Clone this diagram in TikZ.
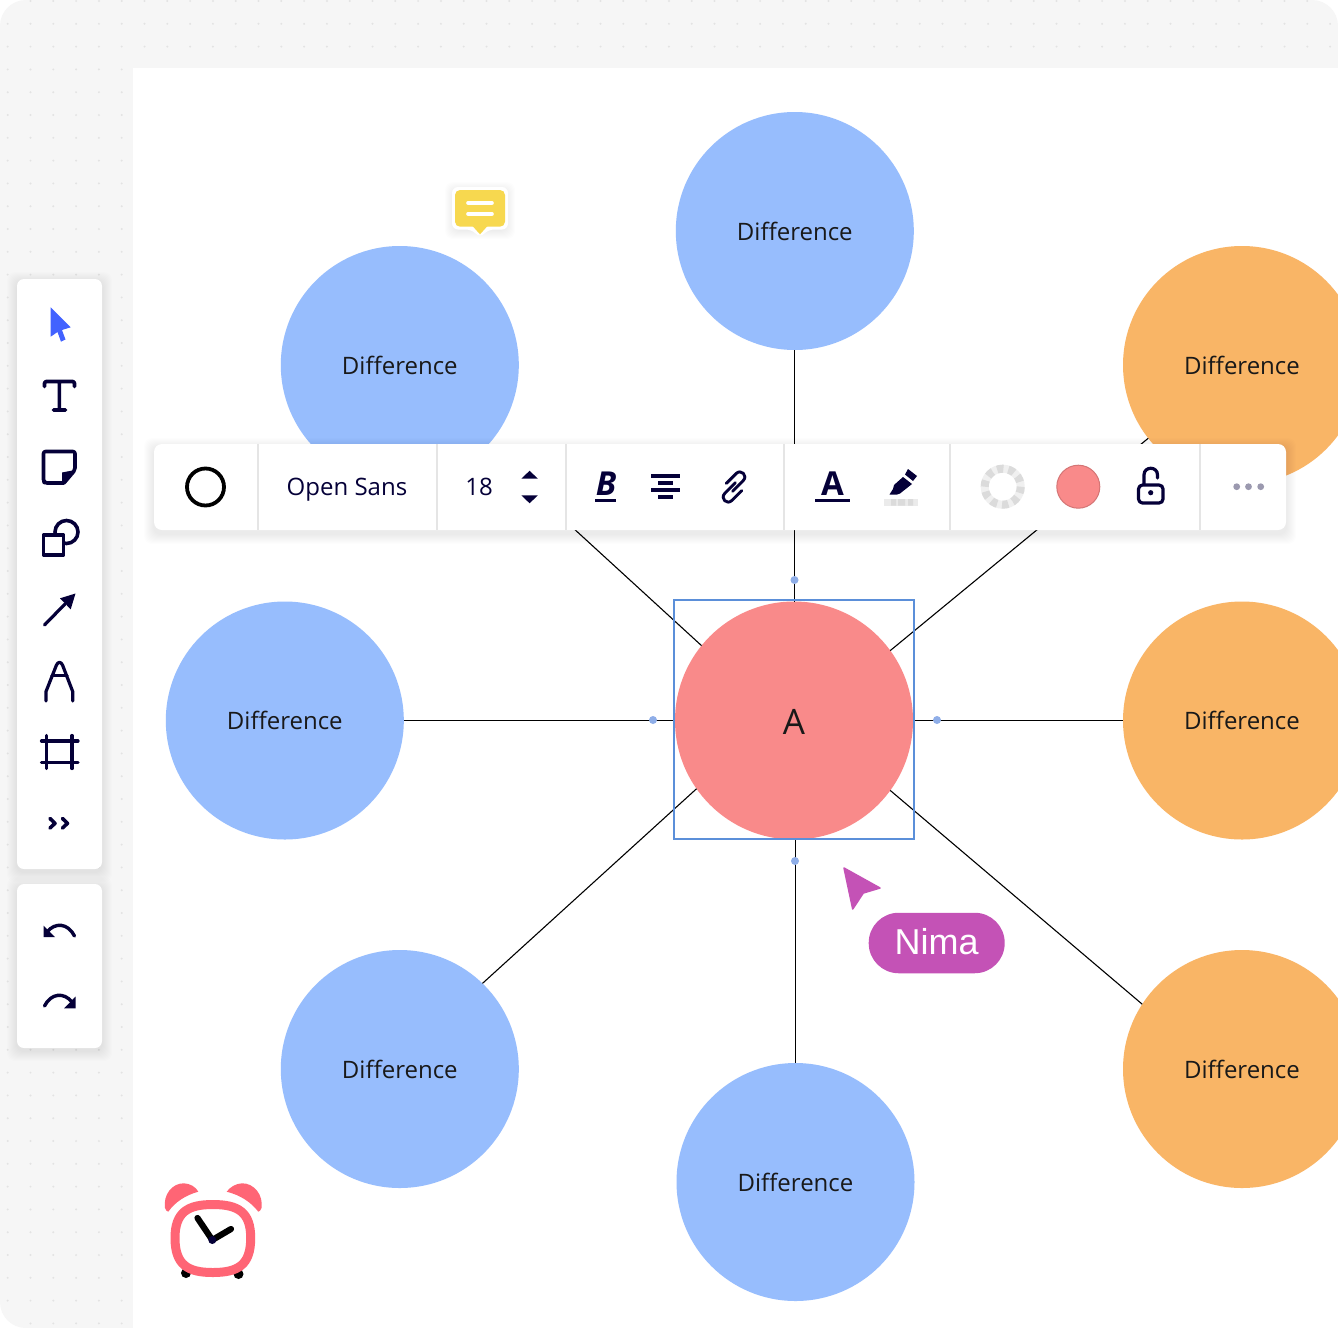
\documentclass[tikz,border=0pt]{standalone}
\usepackage{fontspec}
\setmainfont{Open Sans}
\newfontfamily\nimafont{Liberation Sans}
\definecolor{bluec}{HTML}{97BDFD}
\definecolor{orangec}{HTML}{F9B566}
\definecolor{redc}{HTML}{F98A8A}
\definecolor{ink}{HTML}{050038}
\definecolor{selc}{HTML}{5B8FD9}
\definecolor{handlec}{HTML}{8FAEE8}
\definecolor{clockc}{HTML}{FF6575}
\definecolor{magc}{HTML}{C452B6}
\definecolor{yelc}{HTML}{F7D84F}
\definecolor{cursorc}{HTML}{4262FF}
\newcommand{\softshadow}[5]{%
  \foreach \i in {1,...,10}{%
    \fill[black,opacity=0.006,rounded corners=8pt]
      (#1-\i,#2-\i+#5) rectangle (#3+\i,#4+\i+#5);}}
\tikzset{
  bub/.style={circle,minimum size=238pt,inner sep=0pt,outer sep=0pt,text=black!90,font=\fontsize{24}{28}\selectfont},
  blueb/.style={bub,fill=bluec},
  orangeb/.style={bub,fill=orangec},
  link/.style={draw=black,line width=1.1pt},
  handle/.style={fill=handlec,circle,inner sep=0pt,minimum size=8pt},
  panel/.style={fill=white,rounded corners=7pt},
  icon/.style={draw=ink,line width=3.6pt,line cap=round,line join=round},
  iconfill/.style={fill=ink,line join=round},
  tooltext/.style={text=ink,inner sep=0pt,anchor=base,font=\fontsize{24}{28}\selectfont},
  divider/.style={draw=black!10,line width=1.6pt},
}
\begin{document}
\begin{tikzpicture}[x=1pt,y=-1pt]
\useasboundingbox (0,0) rectangle (1338,1328);
\clip (0,0) rectangle (1338,1328);
\fill[white] (0,0) rectangle (1338,1328);
% board background
\begin{scope}
\clip[rounded corners=26pt] (0,0) rectangle (1338,1328);
\fill[black!3.6] (0,0) rectangle (1338,1328);
\foreach \c in {0,...,58}{\foreach \r in {0,...,58}{
  \fill[black!11] ({7.7+22.8*\c},{1+22.8*\r}) circle[radius=1.1];}}
\end{scope}
\fill[white] (133,68) rectangle (1338,1328);
% nodes
\node[blueb] (top) at (794.8,231) {Difference};
\node[blueb] (tl) at (399.8,365) {Difference};
\node[orangeb] (tr) at (1242,365) {Difference};
\node[blueb] (left) at (284.8,720.5) {Difference};
\node[orangeb] (right) at (1242,720.5) {Difference};
\node[blueb] (bl) at (399.8,1069) {Difference};
\node[blueb] (bot) at (795.5,1182) {Difference};
\node[orangeb] (br) at (1242,1069) {Difference};
\node[bub,fill=redc] (c) at (794,720.5) {};
\node[text=black!90,inner sep=0pt,font=\fontsize{35}{38}\selectfont] (clabel) at (794,722) {A};
% connectors
\draw[link] (c.north -| top.south) -- (top.south);
\draw[link] (c.south -| bot.north) -- (bot.north);
\draw[link] (c.west) -- (left.east);
\draw[link] (c.east) -- (right.west);
\draw[link] (c.141.4) -- (tl.-44.5);
\draw[link] (c.36.9) -- (tr.-142.5);
\draw[link] (c.215.8) -- (bl.46.5);
\draw[link] (c.-36.9) -- (br.147.6);
% selection
\node[draw=selc,line width=1.2pt,minimum width=240pt,minimum height=239pt,inner sep=0pt] (sel) at (794,719.5) {};
\node[handle] (h1) at (794.5,580) {};
\node[handle] (h2) at (653,720) {};
\node[handle] (h3) at (937,720) {};
\node[handle] (h4) at (795,861) {};
% comment bubble
\softshadow{455}{190}{505}{227}{2}
\fill[white,rounded corners=6pt] (452,187) -- (508,187) -- (508,229.5) -- (488,229.5) -- (480,238) -- (472,229.5) -- (452,229.5) -- cycle;
\fill[yelc,rounded corners=5pt] (455,190) rectangle (505,226.7);
\fill[yelc,line join=round] (472.5,226) -- (487.5,226) -- (480,234.3) -- cycle;
\draw[white,line width=3.6pt,line cap=round] (468,203) -- (492,203) (468,214) -- (492,214);
% left toolbars
\softshadow{17}{279}{102}{869}{3}
\softshadow{17}{884}{102}{1048}{3}
\fill[panel] (17,279) rectangle (102,869);
\fill[panel] (17,884) rectangle (102,1048);
% cursor
\fill[cursorc,line join=round]
  (50.7,307.3) -- (70.7,327.3) -- (62,330) -- (65.5,339.5) -- (61,341.7) -- (57.5,332) -- (50.7,336.7) -- cycle;
% T
\draw[icon] (44.5,386.5) -- (44.5,383) -- (46,381.5) -- (73,381.5) -- (74.5,383) -- (74.5,386.5) (59.4,381.5) -- (59.4,410) (53.5,410) -- (65.5,410);
% note
\draw[icon,rounded corners=2pt] (64,483) -- (45,483) -- (43.5,481.5) -- (43.5,451.5) -- (75,451.5) -- (75,470) -- (64,483);
\fill[iconfill] (75,470) -- (62,472.5) -- (62,483) -- (65,483) -- cycle;
% shapes
\draw[icon] (66.5,532) circle[radius=11.5];
\draw[icon,fill=white] (43.5,535) rectangle (63.5,555);
% arrow
\draw[icon,line width=3.2pt] (44.5,625) -- (65,604);
\fill[iconfill] (75.5,593.5) -- (60,598.3) -- (70.7,609.3) -- cycle;
% pen
\draw[icon,line width=3.2pt] (46,701) -- (46,691.5) -- (56.5,665) .. controls (58,661.5) and (61,661.5) .. (62.5,665) -- (72.7,691.5) -- (72.7,701);
\draw[icon,line width=3.2pt] (52,675.5) -- (67,675.5);
% frame
\draw[icon,line width=3.2pt] (41.5,741) -- (78,741) (41.5,762.5) -- (78,762.5) (46.7,735.5) -- (46.7,768.5) (72,735.5) -- (72,768.5);
% more
\draw[icon,line width=3.6pt] (50,818.5) -- (55,823.3) -- (50,828) (62.5,818.5) -- (67.5,823.3) -- (62.5,828);
% undo
\draw[icon,line width=3.4pt] (74.5,936) .. controls (68,923) and (55,922) .. (47,932);
\fill[iconfill] (43.5,925.5) -- (43.5,937) -- (55,937) -- cycle;
% redo
\draw[icon,line width=3.4pt] (44.5,1006) .. controls (51,993) and (64,992) .. (72,1002);
\fill[iconfill] (75.7,996.5) -- (75.7,1008.3) -- (64,1008.3) -- cycle;
% top toolbar
\softshadow{154}{444}{1286}{530}{4}
\fill[white,rounded corners=8pt] (154,444) rectangle (1286,530);
\foreach \x in {258,437,566,784,950,1200}{\draw[divider] (\x,444) -- (\x,530);}
\draw[black,line width=3.8pt] (205.5,487) circle[radius=18.5];
\node[tooltext] (fontname) at (347,495.5) {Open Sans};
\node[tooltext] (fontsize) at (479,495.5) {18};
\fill[iconfill] (521.4,478.7) -- (537.8,478.7) -- (529.6,470.7) -- cycle;
\fill[iconfill] (521.4,495.3) -- (537.8,495.3) -- (529.6,503.3) -- cycle;
\node[text=ink,inner sep=0pt,anchor=base,font=\fontsize{33}{34}\selectfont\bfseries\itshape] (boldb) at (606,495.5) {B};
\fill[ink] (595,499) rectangle (616,502.4);
\draw[ink,line width=3.2pt] (651,476) -- (680,476) (658,483) -- (673,483) (651,490) -- (680,490) (658,497) -- (673,497);
\begin{scope}[shift={(734,487)},rotate=45]
\draw[icon,line width=2.9pt] (3,8) -- (-11,8) .. controls (-18,8) and (-18,-2) .. (-11,-2) -- (4,-2);
\draw[icon,line width=2.9pt] (-3,-8) -- (11,-8) .. controls (18,-8) and (18,2) .. (11,2) -- (-4,2);
\end{scope}
\node[text=ink,inner sep=0pt,anchor=base,font=\fontsize{33}{34}\selectfont\bfseries] (colora) at (832.5,495.5) {A};
\fill[ink] (815,499) rectangle (850,502.4);
% highlighter
\fill[iconfill] (903,477) -- (912,484) -- (900,493.5) -- (897,494.5) -- (889.5,494.5) -- (893,489) -- (894,485) -- cycle;
\fill[iconfill] (908,469) -- (917,476) -- (913,481) -- (905,474.5) -- cycle;
\fill[black!8] (884,499) rectangle (918,505.5);
\fill[black!14] (891,499) rectangle (896,505.5) (898,499) rectangle (905,505.5) (908,499) rectangle (913,505.5);
% ring
\draw[black!6,line width=8pt] (1002.7,486.7) circle[radius=18];
\draw[black!14,line width=8pt,dash pattern=on 6.3pt off 5pt] (1002.7,486.7) circle[radius=18];
% colour swatch
\fill[redc,draw=redc!85!black,line width=1pt] (1078.3,486.7) circle[radius=21.5];
% lock
\draw[icon,line width=3.2pt,rounded corners=4pt] (1138.5,485) rectangle (1163,503);
\draw[icon,line width=3.2pt] (1144,484) -- (1144,475) .. controls (1144,466) and (1157.5,466) .. (1157.5,475) -- (1157.5,478);
\fill[ink] (1150.7,492.7) circle[radius=2.6];
% dots
\foreach \x in {1236.7,1248.5,1260.7}{\fill[ink!40] (\x,486.7) circle[radius=3.4];}
% magenta cursor
\fill[magc,draw=magc,line width=1.5pt,line join=round] (844,868) -- (880,888) -- (863.3,893) -- (852.7,909) -- cycle;
\node[fill=magc,rounded corners=30pt,minimum width=136pt,minimum height=60.5pt,inner sep=0pt] (nima) at (936.7,943) {};
\node[text=white,inner sep=0pt,font=\nimafont\fontsize{36}{40}\selectfont] (nimatext) at (936.7,942) {Nima};
% clock
\fill[black] (186,1273) circle[radius=5] (238.5,1274) circle[radius=5];
\draw[clockc,line width=9pt,fill=white] (212.8,1204.5) .. controls (238,1204.5) and (250.7,1212) .. (250.7,1238) .. controls (250.7,1265) and (238,1272.5) .. (212.8,1272.5) .. controls (188,1272.5) and (175,1265) .. (175,1238) .. controls (175,1212) and (188,1204.5) .. (212.8,1204.5) -- cycle;
\fill[clockc,line join=round] (165,1208) .. controls (163,1195) and (172,1183) .. (184,1183.3) .. controls (190,1183.5) and (196,1187) .. (198.3,1191.7) .. controls (186,1195) and (175,1202) .. (168.3,1211.7) .. controls (167,1211.5) and (165.5,1210) .. (165,1208) -- cycle;
\fill[clockc,line join=round] (261.5,1208) .. controls (263.5,1195) and (254,1183) .. (242,1183.3) .. controls (236,1183.5) and (230,1187) .. (226.7,1191.7) .. controls (240,1195) and (251,1202) .. (258.3,1211.7) .. controls (259.5,1211.5) and (261,1210) .. (261.5,1208) -- cycle;
\draw[black,line width=6.2pt,line cap=round,line join=round] (197.5,1218) -- (212.3,1240) -- (231,1229);
\fill[ink] (212.3,1240) circle[radius=4];
\end{tikzpicture}
\end{document}
